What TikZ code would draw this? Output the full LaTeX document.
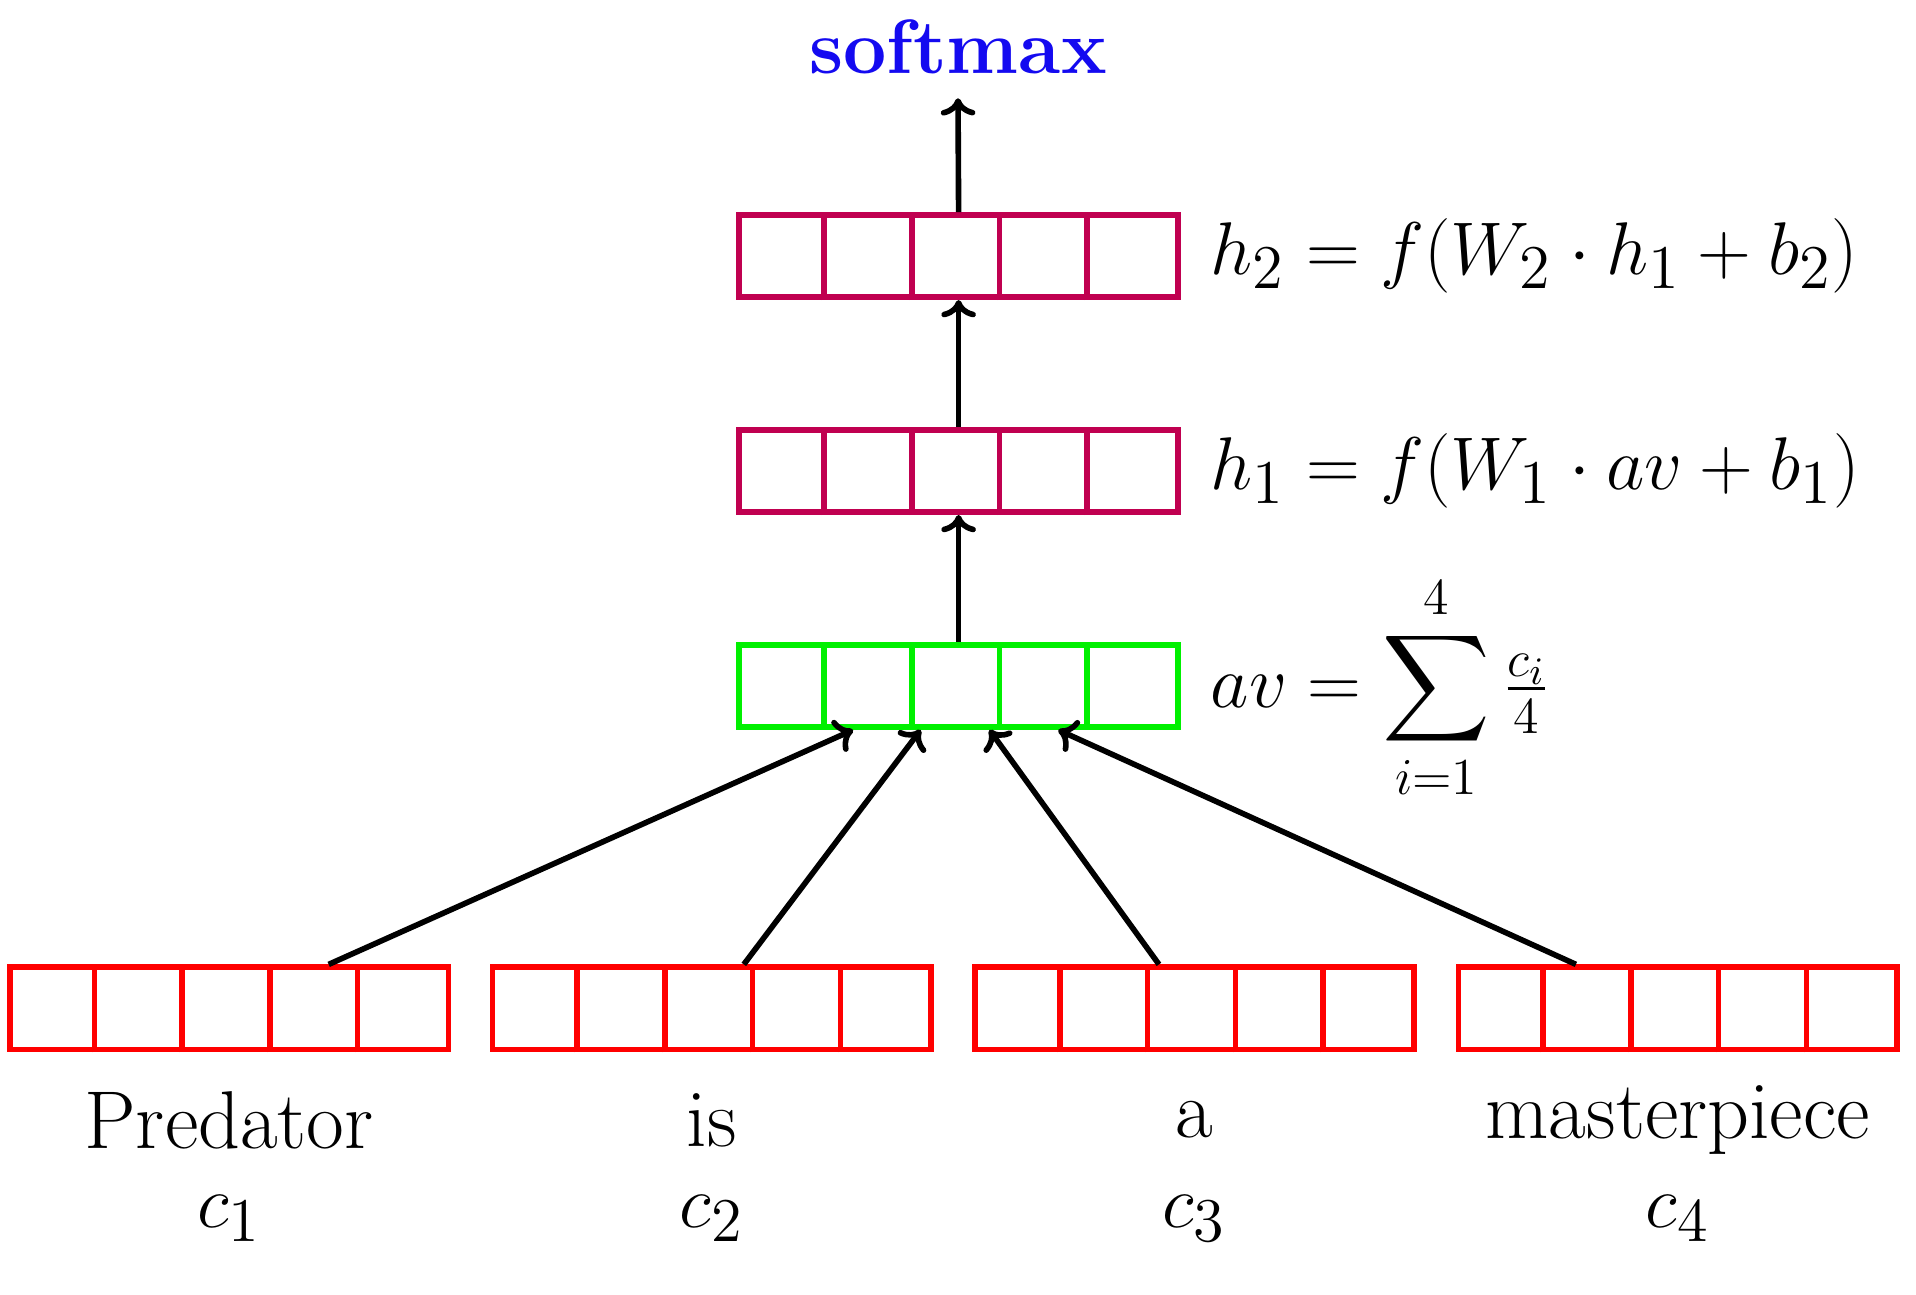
\documentclass[tikz,border=0pt]{standalone}
\usepackage{amsmath}
\usetikzlibrary{arrows.meta}
\definecolor{hcol}{RGB}{192,0,80}
\definecolor{gcol}{RGB}{0,240,0}
\definecolor{ccol}{RGB}{255,0,0}
\definecolor{scol}{RGB}{20,10,240}
\newcommand\vecrow[4]{%
  \node[vbx,draw=#4] (#1) at (#2,#3) {};
  \foreach \k in {1,...,4}{\draw[#4,line width=1.3pt] ($(#1.south west)+(\k*71.4,0)$) -- ($(#1.north west)+(\k*71.4,0)$);}
}
\usetikzlibrary{calc}
\begin{document}
\begin{tikzpicture}[x=0.01cm,y=-0.01cm,
  vbx/.style={rectangle,line width=1.3pt,minimum width=3.57cm,minimum height=0.67cm,inner sep=0pt},
  arr/.style={line width=1.3pt,-{To[length=4pt,width=8pt]}},
  lbl/.style={font=\fontsize{19}{22}\selectfont,inner sep=0pt},
  eq/.style={font=\fontsize{19}{22}\selectfont,anchor=west,inner sep=0pt}]
\useasboundingbox (0,0) rectangle (1560,1054);
\vecrow{w1}{186.5}{821}{ccol}
\vecrow{w2}{579.5}{821}{ccol}
\vecrow{w3}{972.5}{821}{ccol}
\vecrow{w4}{1366}{821}{ccol}
\vecrow{av}{780.5}{558.5}{gcol}
\vecrow{h1}{780.5}{383.5}{hcol}
\vecrow{h2}{780.5}{208.5}{hcol}
\node[lbl] (t1) at (186.5,912) {Predator};
\node[lbl] (t2) at (579.5,912) {is};
\node[lbl] (t3) at (972.5,912) {a};
\node[lbl] (t4) at (1366,912) {masterpiece};
\node[lbl] (c1) at (186.5,992) {$c_1$};
\node[lbl] (c2) at (579.5,992) {$c_2$};
\node[lbl] (c3) at (972.5,992) {$c_3$};
\node[lbl] (c4) at (1366,992) {$c_4$};
\node[lbl,font=\fontsize{17.8}{21}\selectfont\bfseries,text=scol] (sm) at (780,38) {softmax};
\coordinate (smb) at (780,80);
\node[eq] (e2) at (985,208) {$h_2 = f(W_2\cdot h_1 + b_2)$};
\node[eq] (e1) at (985,383) {$h_1 = f(W_1\cdot av + b_1)$};
\node[eq,font=\fontsize{18}{21}\selectfont] (e0) at (985,560) {$av = \displaystyle\sum_{i=1}^{4}\tfrac{c_i}{4}$};
\draw[arr] ($(w1.north west)+(262,0)$) -- ($(av.south west)+(95,0)$);
\draw[arr] ($(w2.north west)+(207,0)$) -- ($(av.south west)+(150,0)$);
\draw[arr] ($(w3.north west)+(152,0)$) -- ($(av.south west)+(206,0)$);
\draw[arr] ($(w4.north west)+(98,0)$) -- ($(av.south west)+(262,0)$);
\draw[arr] (av.north) -- (h1.south);
\draw[arr] (h1.north) -- (h2.south);
\draw[arr] (h2.north) -- (smb);
\end{tikzpicture}
\end{document}
